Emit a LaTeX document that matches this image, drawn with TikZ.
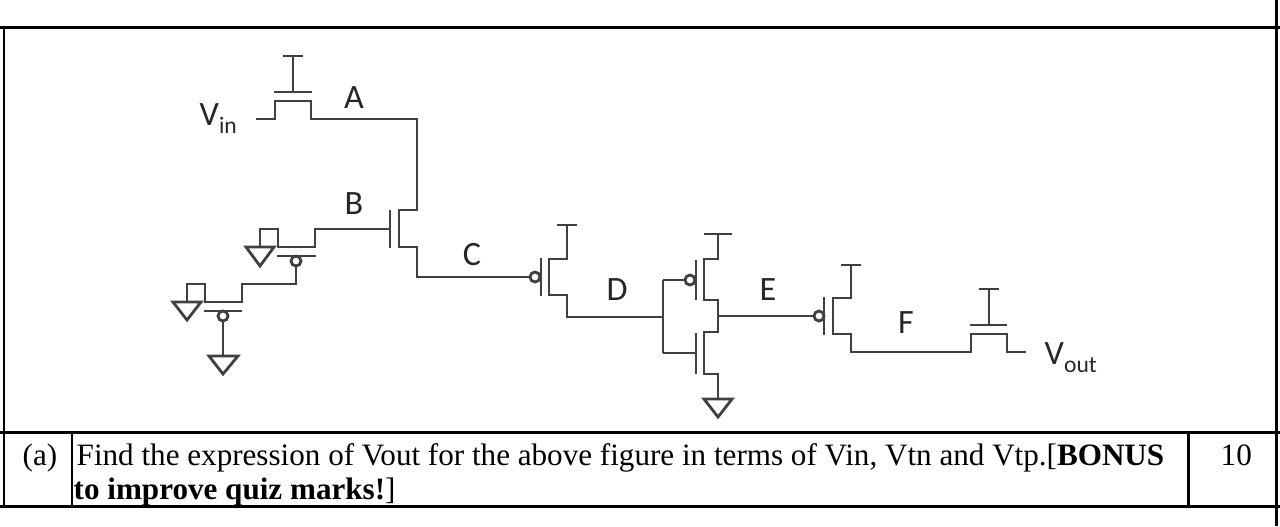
\documentclass[tikz,border=0pt]{standalone}
\usepackage{fontspec}
\setmainfont{Liberation Serif}
\newfontfamily\labelfont{Carlito}
\definecolor{wiregray}{HTML}{404040}
\newcommand{\lowsub}[1]{\raisebox{-2.4pt}{\fontsize{6.7}{8}\selectfont #1}}
\tikzset{
	wire/.style={draw=wiregray,line width=0.8pt},
	rulebar/.style={draw=black,line width=0.85pt},
	bubble/.style={draw=wiregray,line width=0.8pt,fill=white},
	sigtext/.style={font=\labelfont\fontsize{9.7}{11}\selectfont,text=black!85,inner sep=0pt},
	rowtext/.style={font=\fontsize{8.85}{10}\selectfont,text=black,inner sep=0pt,anchor=base west}
}
\begin{document}
\begin{tikzpicture}[x=0.01cm,y=-0.01cm]
				\useasboundingbox (0,0) rectangle (1280,526);

				% Table rules
				\draw[rulebar] (0,27) -- (1280,27);
				\draw[rulebar] (4,27) -- (4,506);
				\draw[rulebar] (1276,0) -- (1276,526);
				\draw[rulebar] (0,432) -- (1280,432);
				\draw[rulebar] (0,506) -- (1280,506);
				\draw[rulebar] (72,432) -- (72,506);
				\draw[rulebar] (1188,432) -- (1188,506);

				% Input pass transistor
				\draw[wire] (283,56) -- (303,56);
				\draw[wire] (293,56) -- (293,92);
				\draw[wire] (274,92) -- (312,92);
				\draw[wire] (256,119) -- (275,119) -- (275,101) -- (311,101) -- (311,119) -- (417,119) -- (417,210) -- (399,210) -- (399,247) -- (417,247) -- (417,277) -- (530,277);

				% NMOS at B
				\draw[wire] (390,210) -- (390,248);
				\draw[wire] (390,229) -- (315,229) -- (315,247) -- (278,247) -- (278,229) -- (260,229) -- (260,247);
				\draw[wire] (246,247) -- (274,247) -- (260,266) -- cycle;

				% First grounded PMOS
				\draw[wire] (277,256) -- (316,256);
				\draw[wire] (296,266) -- (296,284) -- (242,284) -- (242,302) -- (205,302) -- (205,284) -- (187,284) -- (187,302);
				\draw[bubble] (296,261) circle (5);
				\draw[wire] (173,302) -- (201,302) -- (187,320) -- cycle;

				% Second grounded PMOS
				\draw[wire] (204,311) -- (242,311);
				\draw[wire] (223,321) -- (223,356);
				\draw[bubble] (223,316) circle (5);
				\draw[wire] (209,356) -- (238,356) -- (223,374) -- cycle;

				% PMOS at C
				\draw[bubble] (535,277) circle (5);
				\draw[wire] (541,258) -- (541,296);
				\draw[wire] (557,225) -- (577,225);
				\draw[wire] (567,225) -- (567,259) -- (549,259) -- (549,295) -- (567,295) -- (567,317) -- (663,317);

				% Inverter
				\draw[wire] (663,280) -- (663,353);
				\draw[wire] (663,280) -- (685,280);
				\draw[bubble] (690,280) circle (5);
				\draw[wire] (663,353) -- (696,353);
				\draw[wire] (696,260) -- (696,300);
				\draw[wire] (696,333) -- (696,374);
				\draw[wire] (704,234) -- (732,234);
				\draw[wire] (718,234) -- (718,259) -- (704,259) -- (704,300) -- (718,300) -- (718,332) -- (704,332) -- (704,374) -- (718,374) -- (718,399);
				\draw[wire] (704,399) -- (732,399) -- (718,417) -- cycle;
				\draw[wire] (718,316) -- (814,316);

				% PMOS at E
				\draw[bubble] (819,316) circle (5);
				\draw[wire] (824,297) -- (824,335);
				\draw[wire] (841,265) -- (861,265);
				\draw[wire] (851,265) -- (851,298) -- (833,298) -- (833,334) -- (851,334) -- (851,352) -- (971,352) -- (971,334) -- (1007,334) -- (1007,352) -- (1026,352);

				% Output pass transistor
				\draw[wire] (970,325) -- (1007,325);
				\draw[wire] (989,325) -- (989,289);
				\draw[wire] (979,289) -- (999,289);

				% Signal names
				\node[sigtext,anchor=base west] (vin) at (199,125) {V\lowsub{in}};
				\node[sigtext] (nodea) at (354,98) {A};
				\node[sigtext] (nodeb) at (354,204) {B};
				\node[sigtext] (nodec) at (472,255) {C};
				\node[sigtext] (noded) at (617,290) {D};
				\node[sigtext] (nodee) at (768,290) {E};
				\node[sigtext] (nodef) at (906,323) {F};
				\node[sigtext,anchor=base west] (vout) at (1044,364) {V\lowsub{out}};

				% Question row
				\node[rowtext] (part) at (22,465) {(a)};
				\node[rowtext] (line1) at (76,465) {Find the expression of Vout for the above figure in terms of Vin, Vtn and Vtp.[\textbf{BONUS}};
				\node[rowtext] (line2) at (73,499) {\textbf{to improve quiz marks!}]};
				\node[rowtext] (marks) at (1220,465) {10};
			\end{tikzpicture}
\end{document}
